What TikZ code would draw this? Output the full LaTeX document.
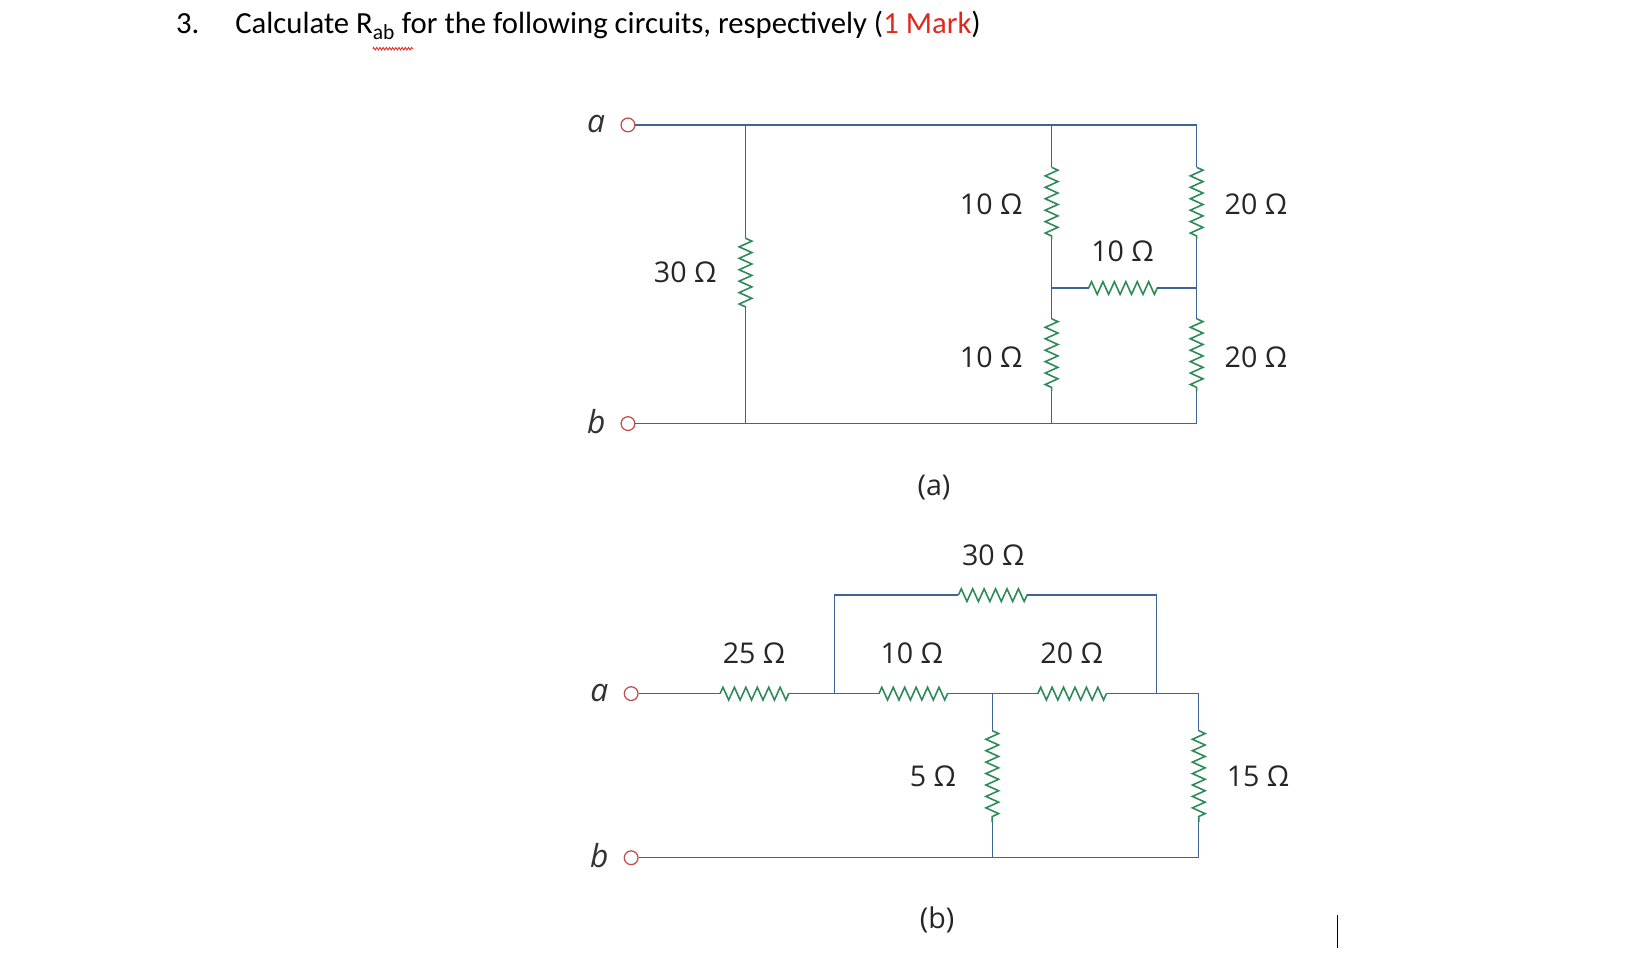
\documentclass[tikz,border=0pt]{standalone}
\usepackage{fontspec}
\setmainfont{Carlito}
\newfontfamily\lblfont{Open Sans}
\usetikzlibrary{decorations.pathmorphing}
\definecolor{wire}{HTML}{3E629A}
\definecolor{resg}{HTML}{2E8B57}
\definecolor{term}{HTML}{C0504D}
\definecolor{markred}{HTML}{E0281E}
\begin{document}
\begin{tikzpicture}[x=1pt,y=-1pt,
  wirel/.style={draw=wire,line width=1.3pt},
  res/.style={draw=resg,line width=1.5pt,decorate,decoration={zigzag,segment length=10.8pt,amplitude=6pt}},
  tm/.style={circle,draw=term,line width=1.2pt,inner sep=0pt,minimum size=13pt,fill=white},
  lbl/.style={font=\lblfont\fontsize{27}{30}\selectfont,text=black!85,inner sep=0pt},
  tl/.style={font=\lblfont\itshape\fontsize{30}{32}\selectfont,text=black!80,inner sep=0pt}]
\useasboundingbox (0,0) rectangle (1560,920);
% title
\node[anchor=base west,inner sep=0pt,font=\fontsize{29}{32}\selectfont] (title) at (166,32)
 {3.\hspace{34pt}Calculate R\textsubscript{ab} for the following circuits, respectively (\textcolor{markred}{1 Mark})};
\draw[markred,line width=0.8pt,decorate,decoration={zigzag,segment length=3pt,amplitude=1.2pt}] (352,46) -- (390,46);
% ---------- circuit (a)
\node[tm] (a1) at (593,118) {};
\node[tl] (la1) at (563,117) {a};
\node[tm] (b1) at (593,400) {};
\node[tl] (lb1) at (563,398) {b};
\coordinate (p1) at (704,118); \coordinate (q1) at (704,400);
\coordinate (p2) at (993,118); \coordinate (q2) at (993,400);
\coordinate (p3) at (1130,118); \coordinate (q3) at (1130,400);
\coordinate (m2) at (993,272); \coordinate (m3) at (1130,272);
\draw[wirel] (a1) -- (p3); \draw[wirel] (b1) -- (q3);
\draw[wirel] (p1) -- (704,225); \draw[res] (704,225) -- (704,290); \draw[wirel] (704,290) -- (q1);
\draw[wirel] (p2) -- (993,158); \draw[res] (993,158) -- (993,226); \draw[wirel] (993,226) -- (m2) -- (993,301);
\draw[res] (993,301) -- (993,369); \draw[wirel] (993,369) -- (q2);
\draw[wirel] (p3) -- (1130,158); \draw[res] (1130,158) -- (1130,226); \draw[wirel] (1130,226) -- (m3) -- (1130,301);
\draw[res] (1130,301) -- (1130,369); \draw[wirel] (1130,369) -- (q3);
\draw[wirel] (m2) -- (1028,272); \draw[res] (1028,272) -- (1093,272); \draw[wirel] (1093,272) -- (m3);
\node[lbl] (r30a) at (647,257) {30 Ω};
\node[lbl] (r10a) at (936,193) {10 Ω};
\node[lbl] (r10b) at (936,337) {10 Ω};
\node[lbl] (r20a) at (1186,193) {20 Ω};
\node[lbl] (r20b) at (1186,337) {20 Ω};
\node[lbl] (r10c) at (1060,237) {10 Ω};
\node[lbl] (capa) at (882,460) {(a)};
% ---------- circuit (b)
\node[tm] (a2) at (596,655) {};
\node[tl] (la2) at (566,654) {a};
\node[tm] (b2) at (596,810) {};
\node[tl] (lb2) at (566,808) {b};
\coordinate (n1) at (788,655); \coordinate (n2) at (937,655); \coordinate (n3) at (1092,655); \coordinate (n4) at (1132,655);
\coordinate (t1) at (788,562); \coordinate (t2) at (1092,562);
\coordinate (g1) at (937,810); \coordinate (g2) at (1132,810);
\draw[wirel] (a2) -- (680,655); \draw[res] (680,655) -- (745,655); \draw[wirel] (745,655) -- (n1) -- (830,655);
\draw[res] (830,655) -- (895,655); \draw[wirel] (895,655) -- (n2) -- (980,655);
\draw[res] (980,655) -- (1045,655); \draw[wirel] (1045,655) -- (n4);
\draw[wirel] (n1) -- (t1) -- (905,562); \draw[res] (905,562) -- (970,562); \draw[wirel] (970,562) -- (t2) -- (n3);
\draw[wirel] (n2) -- (937,690); \draw[res] (937,690) -- (937,776); \draw[wirel] (937,776) -- (g1);
\draw[wirel] (n4) -- (1132,690); \draw[res] (1132,690) -- (1132,776); \draw[wirel] (1132,776) -- (g2);
\draw[wirel] (b2) -- (g2);
\node[lbl] (r30b) at (938,524) {30 Ω};
\node[lbl] (r25) at (712,617) {25 Ω};
\node[lbl] (r10d) at (861,617) {10 Ω};
\node[lbl] (r20c) at (1012,617) {20 Ω};
\node[lbl] (r5) at (881,733) {5 Ω};
\node[lbl] (r15) at (1188,733) {15 Ω};
\node[lbl] (capb) at (885,869) {(b)};
\draw[black,line width=1.3pt] (1263,864) -- (1263,895);
\end{tikzpicture}
\end{document}
